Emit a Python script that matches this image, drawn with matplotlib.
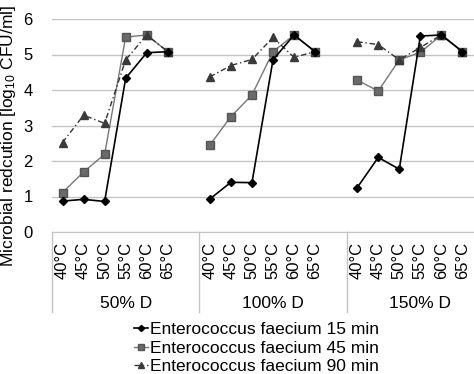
import numpy as np
import matplotlib
matplotlib.use("Agg")
import matplotlib.pyplot as plt

plt.rcParams['font.family'] = ['Liberation Sans', 'DejaVu Sans']
plt.rcParams['mathtext.default'] = 'regular'

temps = ['40°C', '45°C', '50°C', '55°C', '60°C', '65°C']
groups = ['50% D', '100% D', '150% D']

# log10 reductions per group (40..65 °C)
ef15 = [[0.87, 0.92, 0.86, 4.33, 5.05, 5.08],
        [0.93, 1.40, 1.39, 4.85, 5.55, 5.08],
        [1.25, 2.10, 1.77, 5.52, 5.55, 5.08]]
ef45 = [[1.11, 1.69, 2.19, 5.49, 5.55, 5.08],
        [2.45, 3.25, 3.86, 5.08, 5.55, 5.08],
        [4.28, 3.97, 4.85, 5.06, 5.55, 5.08]]
ef90 = [[2.52, 3.29, 3.06, 4.85, 5.55, 5.08],
        [4.37, 4.69, 4.86, 5.48, 4.92, 5.08],
        [5.36, 5.28, 4.85, 5.20, 5.55, 5.08]]
labels = ['Enterococcus faecium 15 min', 'Enterococcus faecium 45 min',
          'Enterococcus faecium 90 min']


def flat(series):
    # 7 slots per group, last slot empty so the lines break
    out = []
    for g in series:
        out += list(g) + [np.nan]
    return np.array(out)


x = np.arange(21)

fig = plt.figure(figsize=(4.74, 3.74), dpi=100)
ax = fig.add_axes([52 / 474, 142 / 374, 442 / 474, 213 / 374])

ax.plot(x, flat(ef15), color='black', lw=1.2, marker='D', ms=4,
        label=labels[0], zorder=4)
ax.plot(x, flat(ef45), color='#777777', lw=1.0, marker='s', ms=6,
        mfc='#6a6a6a', mec='#555555', label=labels[1], zorder=3)
ax.plot(x, flat(ef90), color='#333333', lw=1.0, marker='^', ms=6,
        dashes=(4, 2, 1, 2), mfc='#3a3a3a', mec='#3a3a3a',
        label=labels[2], zorder=3)

ax.set_xlim(-0.5, 20.5)
ax.set_ylim(0, 6)
ax.set_yticks(range(7))
ax.tick_params(axis='y', length=0, pad=14, labelsize=12)
ax.grid(True, axis='y', color='#c4c4c4', lw=1)
ax.set_axisbelow(True)
for s in ['top', 'right', 'left']:
    ax.spines[s].set_visible(False)
ax.spines['bottom'].set_color('#c4c4c4')

ticks = [g * 7 + i for g in range(3) for i in range(6)]
ax.set_xticks(ticks)
ax.set_xticklabels(temps * 3, rotation=90, fontsize=12)
ax.tick_params(axis='x', length=0, pad=7)

for g, name in enumerate(groups):
    ax.text(g * 7 + 3, -0.335, name, transform=ax.get_xaxis_transform(),
            ha='center', va='center', fontsize=12.5)
for xs in [-0.5, 6.5, 13.5, 20.5]:
    ax.plot([xs, xs], [0, -0.375], transform=ax.get_xaxis_transform(),
            color='#c4c4c4', lw=1, clip_on=False)

fig.text(9 / 474, 1 - 136 / 374,
         'Microbial redcution [log$_{10}$ CFU/ml]', rotation=90,
         ha='center', va='center', fontsize=12.5)

fig.legend(loc='upper left', bbox_to_anchor=(134 / 474, 1 - 322 / 374),
           frameon=False, fontsize=12.5, handlelength=0.8,
           handletextpad=0.15, labelspacing=0.2, borderpad=0,
           borderaxespad=0, markerscale=0.8)

fig.savefig('out.png', dpi=100)
